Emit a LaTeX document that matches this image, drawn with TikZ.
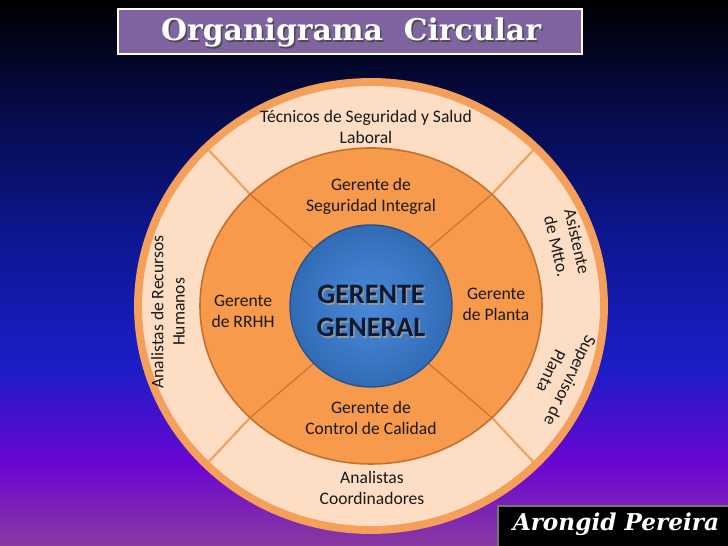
\documentclass[tikz,border=0pt]{standalone}
\usepackage{fontspec}
\setmainfont{Carlito}
\newfontfamily\titlefont{DejaVu Serif}
\usepackage{tikz}
\usetikzlibrary{calc}
\definecolor{bgmauve}{HTML}{8A3AA0}
\definecolor{bgpurple}{HTML}{6A05D2}
\definecolor{bgblue}{HTML}{1A1EC6}
\definecolor{bgnavy}{HTML}{0E1690}
\definecolor{bgdark}{HTML}{050A40}
\definecolor{peach}{HTML}{FDDDC3}
\definecolor{rimorange}{HTML}{F5A05A}
\definecolor{midorange}{HTML}{F79A4C}
\definecolor{brownline}{HTML}{C46F2C}
\definecolor{lightline}{HTML}{EFA060}
\definecolor{ballblue}{HTML}{4A8ADA}
\definecolor{balledge}{HTML}{2F68B2}
\definecolor{titlepurple}{HTML}{8064A2}
\definecolor{inkdark}{HTML}{0B1A33}
\pgfdeclareverticalshading{skyfade}{100bp}{color(0bp)=(bgmauve); color(25bp)=(bgmauve); color(32.5bp)=(bgpurple); color(41.5bp)=(bgblue); color(53.5bp)=(bgnavy); color(66bp)=(bgdark); color(75bp)=(black); color(100bp)=(black)}

\begin{document}
\begin{tikzpicture}[x=0.02cm, y=-0.02cm,
  lbl/.style={font=\fontsize{10}{12}\selectfont, align=center, text=black!90},
  ringline/.style={line width=1.2pt, draw=lightline},
  midline/.style={line width=0.6pt, draw=brownline}]
  \useasboundingbox (0,0) rectangle (728,546);
  \shade[shading=skyfade] (0,0) rectangle (728,546);

  \coordinate (C) at (371,306);
  \fill[peach] (C) ellipse [x radius=233, y radius=224];
  \draw[rimorange, line width=4.5pt] (C) ellipse [x radius=233, y radius=224];
  \foreach \a in {45,135,225,315}
    \draw[ringline] ($(C)+(\a:171 and 158)$) -- ($(C)+(\a:231 and 222)$);
  \filldraw[fill=midorange, draw=brownline, line width=0.9pt] (C) ellipse [x radius=171, y radius=158];
  \foreach \a in {45,135,225,315}
    \draw[midline] ($(C)+(\a:81 and 81)$) -- ($(C)+(\a:171 and 158)$);
  \shade[inner color=ballblue, outer color=balledge!90!ballblue] (C) circle [radius=81];
  \draw[balledge!80!black, line width=0.8pt] (C) circle [radius=81];

  \node[font=\fontsize{16}{18.7}\selectfont\bfseries, text=black!40, align=center] (gshadow) at (372.5,312.5) {GERENTE\\GENERAL};
  \node[font=\fontsize{16}{18.7}\selectfont\bfseries, text=inkdark, align=center] (gerente) at (371,311) {GERENTE\\GENERAL};

  \node[lbl] (seguridad) at (371,196) {Gerente de\\Seguridad Integral};
  \node[lbl] (calidad) at (371,418) {Gerente de\\Control de Calidad};
  \node[lbl] (rrhh) at (243,311) {Gerente\\de RRHH};
  \node[lbl] (planta) at (496,304) {Gerente\\de Planta};

  \node[lbl] (tecnicos) at (366,127) {Técnicos de Seguridad y Salud\\Laboral};
  \node[lbl] (coord) at (372,488) {Analistas\\Coordinadores};
  \node[lbl, rotate=90] (recursos) at (168,312) {Analistas de Recursos\\Humanos};
  \node[lbl, rotate=-77] (asistente) at (567,244) {Asistente\\de Mtto.};
  \node[lbl, rotate=-116] (supervisor) at (561,376) {Supervisor de\\Planta};

  \draw[white, line width=1.6pt, fill=titlepurple] (118,9) rectangle (582,54);
  \node[font=\titlefont\fontsize{17}{20}\selectfont\bfseries, text=black!70] (tshadow) at (352.5,34.5) {Organigrama\ \ Circular};
  \node[font=\titlefont\fontsize{17}{20}\selectfont\bfseries, text=white] (titulo) at (351,32) {Organigrama\ \ Circular};

  \draw[black!55, line width=0.6pt, fill=black] (498,506) rectangle (729,547);
  \node[font=\titlefont\fontsize{13.2}{15}\selectfont\bfseries\itshape, text=white] (autor) at (616,524) {Arongid Pereira};
\end{tikzpicture}
\end{document}
